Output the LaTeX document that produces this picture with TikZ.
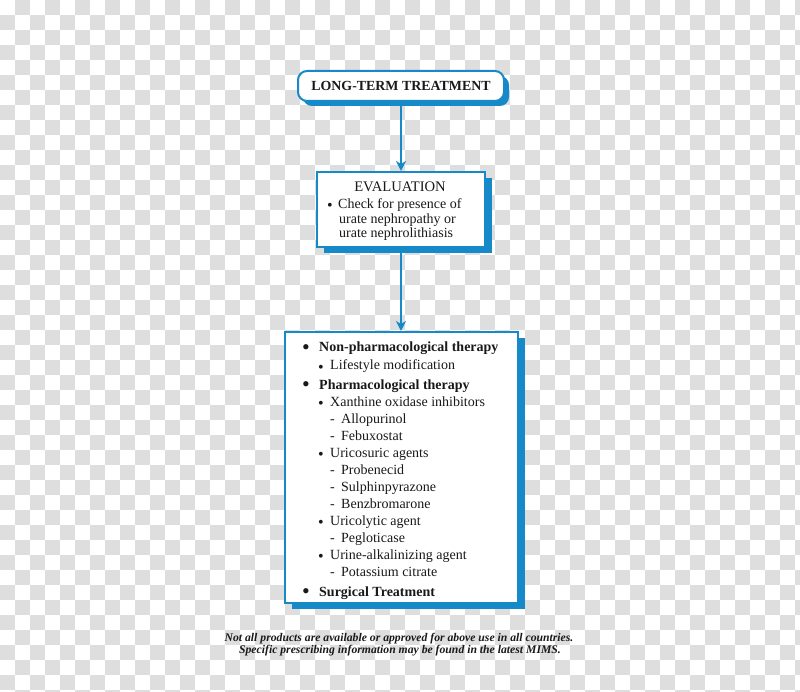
\documentclass[tikz,border=0pt]{standalone}
\usepackage{fontspec}
\setmainfont{Liberation Serif}
\usetikzlibrary{arrows.meta,shadows}
\definecolor{mblue}{RGB}{22,138,200}
\definecolor{chk}{RGB}{222,222,222}
\definecolor{ink}{RGB}{25,25,25}
\tikzset{
  boxshape/.style={draw=mblue, line width=2pt, fill=white, inner sep=0pt},
  conn/.style={draw=mblue, line width=2pt, -{Stealth[length=10pt,width=10pt,inset=3pt]}},
  txt/.style={anchor=base west, inner sep=0pt, text=ink, font=\fontsize{14}{16}\selectfont},
  btxt/.style={txt, font=\fontsize{14}{16}\selectfont\bfseries},
  bigdot/.style={anchor=base, inner sep=0pt, text=ink, font=\fontsize{22}{22}\selectfont},
  smalldot/.style={anchor=base, inner sep=0pt, text=ink, font=\fontsize{16}{16}\selectfont},
  foot/.style={anchor=base, inner sep=0pt, text=ink, font=\fontsize{11.7}{13}\selectfont\bfseries\itshape}
}
\begin{document}
\begin{tikzpicture}[x=1pt,y=-1pt]
\useasboundingbox (0,0) rectangle (800,692);
\clip (0,0) rectangle (800,692);
\fill[white] (0,0) rectangle (800,692);
\foreach \i in {0,2,...,52}{\foreach \j in {1,3,...,45}{\fill[chk] (\i*15,\j*15) rectangle ++(15,15);}}
\foreach \i in {1,3,...,53}{\foreach \j in {0,2,...,46}{\fill[chk] (\i*15,\j*15) rectangle ++(15,15);}}

% boxes
\node[boxshape, rounded corners=9pt, minimum width=206pt, minimum height=30pt,
  drop shadow={shadow xshift=5pt, shadow yshift=-5pt, fill=mblue, opacity=1},
  font=\fontsize{13.9}{16}\selectfont\bfseries, text=ink] (top) at (401,86) {LONG-TERM TREATMENT};
\node[boxshape, minimum width=168pt, minimum height=75pt,
  drop shadow={shadow xshift=7pt, shadow yshift=-6pt, fill=mblue, opacity=1}] (eval) at (401,209.5) {};
\node[boxshape, minimum width=233pt, minimum height=271pt,
  drop shadow={shadow xshift=7pt, shadow yshift=-6pt, fill=mblue, opacity=1}] (main) at (401,467.5) {};

% connectors
\draw[conn] (top.south) -- (eval.north);
\draw[conn] (eval.south) -- (main.north);

% evaluation text
\node[anchor=base, inner sep=0pt, text=ink, font=\fontsize{14.6}{16}\selectfont] (evt) at (400,192) {EVALUATION};
\node[smalldot] (evb) at (330,211) {•};
\node[txt] (ev1) at (338,209) {Check for presence of};
\node[txt] (ev2) at (339,224) {urate nephropathy or};
\node[txt] (ev3) at (339,238) {urate nephrolithiasis};

% main box text
\node[bigdot] (b1) at (306,354.5) {•};
\node[btxt] (m1) at (319,352) {Non-pharmacological therapy};
\node[smalldot] (b2) at (321,372) {•};
\node[txt] (m2) at (330,370) {Lifestyle modification};
\node[bigdot] (b3) at (306,391.5) {•};
\node[btxt] (m3) at (319,389) {Pharmacological therapy};
\node[smalldot] (b4) at (321,408) {•};
\node[txt] (m4) at (330,406) {Xanthine oxidase inhibitors};
\node[txt] (d5) at (330,423) {-};
\node[txt] (m5) at (341,423) {Allopurinol};
\node[txt] (d6) at (330,440.5) {-};
\node[txt] (m6) at (341,440.5) {Febuxostat};
\node[smalldot] (b7) at (321,459) {•};
\node[txt] (m7) at (330,457) {Uricosuric agents};
\node[txt] (d8) at (330,474) {-};
\node[txt] (m8) at (341,474) {Probenecid};
\node[txt] (d9) at (330,491.5) {-};
\node[txt] (m9) at (341,491.5) {Sulphinpyrazone};
\node[txt] (d10) at (330,508) {-};
\node[txt] (m10) at (341,508) {Benzbromarone};
\node[smalldot] (b11) at (321,527) {•};
\node[txt] (m11) at (330,525) {Uricolytic agent};
\node[txt] (d12) at (330,542) {-};
\node[txt] (m12) at (341,542) {Pegloticase};
\node[smalldot] (b13) at (321,561) {•};
\node[txt] (m13) at (330,559) {Urine-alkalinizing agent};
\node[txt] (d14) at (330,576) {-};
\node[txt] (m14) at (341,576) {Potassium citrate};
\node[bigdot] (b15) at (306,598.5) {•};
\node[btxt] (m15) at (319,596) {Surgical Treatment};

% footer
\node[foot] (f1) at (399,641.5) {Not all products are available or approved for above use in all countries.};
\node[foot] (f2) at (400,653.5) {Specific prescribing information may be found in the latest MIMS.};
\end{tikzpicture}
\end{document}
